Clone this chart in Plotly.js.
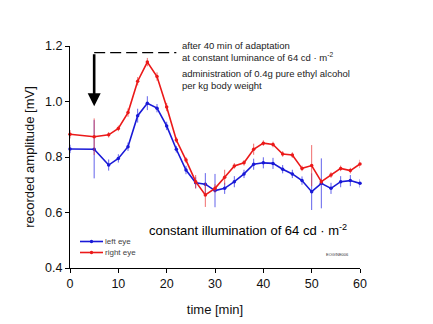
<!DOCTYPE html>
<html>
<head>
<meta charset="utf-8">
<script src="https://cdn.plot.ly/plotly-3.0.1.min.js"></script>
<style>html,body{margin:0;padding:0;background:#fff;}#chart{width:433px;height:324px;}</style>
</head>
<body>
<div id="chart"></div>
<script>
const timeMin = [0,5,8,10,12,14,16,18,20,22,24,26,28,30,32,34,36,38,40,42,44,46,48,50,52,54,56,58,60];
const leftEye = [0.829,0.828,0.771,0.795,0.837,0.949,0.994,0.976,0.912,0.828,0.753,0.707,0.702,0.679,0.687,0.711,0.739,0.774,0.779,0.777,0.756,0.739,0.715,0.675,0.705,0.687,0.711,0.715,0.705];
const leftErr = [0.015,0.105,0.02,0.015,0.015,0.025,0.025,0.015,0.015,0.012,0.015,0.02,0.04,0.06,0.02,0.02,0.015,0.02,0.02,0.02,0.015,0.015,0.015,0.066,0.09,0.02,0.02,0.02,0.015];
const rightEye = [0.882,0.873,0.880,0.903,0.960,1.073,1.142,1.090,0.980,0.861,0.789,0.711,0.663,0.687,0.727,0.768,0.779,0.828,0.850,0.845,0.811,0.807,0.759,0.769,0.711,0.735,0.759,0.751,0.775];
const rightErr = [0.015,0.066,0.01,0.01,0.015,0.015,0.015,0.015,0.015,0.01,0.01,0.024,0.043,0.015,0.027,0.01,0.01,0.02,0.01,0.01,0.01,0.01,0.01,0.074,0.01,0.01,0.01,0.01,0.015];
const seriesNames = ["left eye", "right eye"];
const yTicks = [0.4,0.6,0.8,1.0,1.2];
const yTickLabels = ["0.4","0.6","0.8","1.0","1.2"];
const xTicks = [0,10,20,30,40,50,60];

const FONT = "Liberation Sans, Arial, sans-serif";
const BLUE = "rgb(25,25,215)";
const RED = "rgb(235,25,25)";
const COLORS = [BLUE, RED];

const traces = [
  {x: timeMin, y: leftEye, name: seriesNames[0], type: "scatter", mode: "lines+markers", showlegend: false,
   line: {color: BLUE, width: 1.6}, marker: {color: BLUE, size: 3.5},
   error_y: {type: "data", array: leftErr, visible: true, color: "rgba(60,60,230,0.8)", thickness: 1, width: 0},
   cliponaxis: false},
  {x: timeMin, y: rightEye, name: seriesNames[1], type: "scatter", mode: "lines+markers", showlegend: false,
   line: {color: RED, width: 1.6}, marker: {color: RED, size: 3.5},
   error_y: {type: "data", array: rightErr, visible: true, color: "rgba(235,60,60,0.75)", thickness: 1, width: 0},
   cliponaxis: false}
];

// plot-area pixel helpers (for legend/labels placement only)
const L = 70, T = 46, W = 290, H = 222;
const px = v => (v - L) / W;
const py = v => 1 - (v - T) / H;

const shapes = [
  {type: "line", xref: "x", yref: "y", x0: 5, x1: 22, y0: 1.176, y1: 1.176,
   line: {color: "#000", width: 1.4, dash: "11px,5px"}}
];
const annotations = [
  {x: 5, y: 0.983, ax: 5, ay: 1.176, xref: "x", yref: "y", axref: "x", ayref: "y",
   showarrow: true, arrowhead: 2, arrowsize: 1, arrowwidth: 2.6, arrowcolor: "#000", text: ""},
  {xref: "paper", yref: "paper", x: px(180), y: py(45), xanchor: "left", yanchor: "middle",
   showarrow: false, font: {size: 9.5, color: "#222"}, text: "after 40 min of adaptation"},
  {xref: "paper", yref: "paper", x: px(180), y: py(57), xanchor: "left", yanchor: "middle",
   showarrow: false, font: {size: 9.5, color: "#222"}, text: "at constant luminance of 64 cd · m<sup>-2</sup>"},
  {xref: "paper", yref: "paper", x: px(180), y: py(73), xanchor: "left", yanchor: "middle",
   showarrow: false, font: {size: 9.5, color: "#222"}, text: "administration of 0.4g pure ethyl alcohol"},
  {xref: "paper", yref: "paper", x: px(180), y: py(85), xanchor: "left", yanchor: "middle",
   showarrow: false, font: {size: 9.5, color: "#222"}, text: "per kg body weight"},
  {xref: "paper", yref: "paper", x: px(147), y: py(230), xanchor: "left", yanchor: "middle",
   showarrow: false, font: {size: 13, color: "#000"}, text: "constant illumination of 64 cd · m<sup>-2</sup>"},
  {xref: "paper", yref: "paper", x: px(324), y: py(254), xanchor: "left", yanchor: "middle",
   showarrow: false, font: {size: 4, color: "#333"}, text: "EOG\\NE006"}
];

// custom compact legend
const legendRows = [241.5, 252.5];
seriesNames.forEach((nm, i) => {
  const yy = py(legendRows[i]);
  shapes.push({type: "line", xref: "paper", yref: "paper", x0: px(80), x1: px(103), y0: yy, y1: yy,
               line: {color: COLORS[i], width: 1.6}});
  shapes.push({type: "circle", xref: "paper", yref: "paper",
               x0: px(89.8), x1: px(93.2), y0: yy - 1.7 / H, y1: yy + 1.7 / H,
               fillcolor: COLORS[i], line: {width: 0}});
  annotations.push({xref: "paper", yref: "paper", x: px(103), y: yy, xanchor: "left", yanchor: "middle",
                    showarrow: false, font: {size: 8, color: "#444"}, text: nm});
});

const layout = {
  width: 433, height: 324,
  margin: {l: 70, r: 73, t: 46, b: 56},
  paper_bgcolor: "#fff", plot_bgcolor: "#fff",
  font: {family: FONT, color: "#000", size: 12},
  showlegend: false,
  xaxis: {range: [0, 60], tickvals: xTicks, ticks: "outside", ticklen: 4, tickcolor: "#000",
          showline: true, linecolor: "#000", linewidth: 1, showgrid: false, zeroline: false,
          tickfont: {size: 12.5, color: "#111"}, title: {text: "time [min]", font: {size: 13, color: "#111"}, standoff: 14}},
  yaxis: {range: [0.4, 1.2], tickvals: yTicks, ticktext: yTickLabels, ticks: "outside", ticklen: 4, tickcolor: "#000",
          showline: true, linecolor: "#000", linewidth: 1, showgrid: false, zeroline: false,
          tickfont: {size: 12.5, color: "#111"}, title: {text: "recorded amplitude [mV]", font: {size: 13, color: "#111"}, standoff: 7}},
  shapes: shapes,
  annotations: annotations
};

Plotly.newPlot("chart", traces, layout, {displayModeBar: false, staticPlot: true});
</script>
</body>
</html>
